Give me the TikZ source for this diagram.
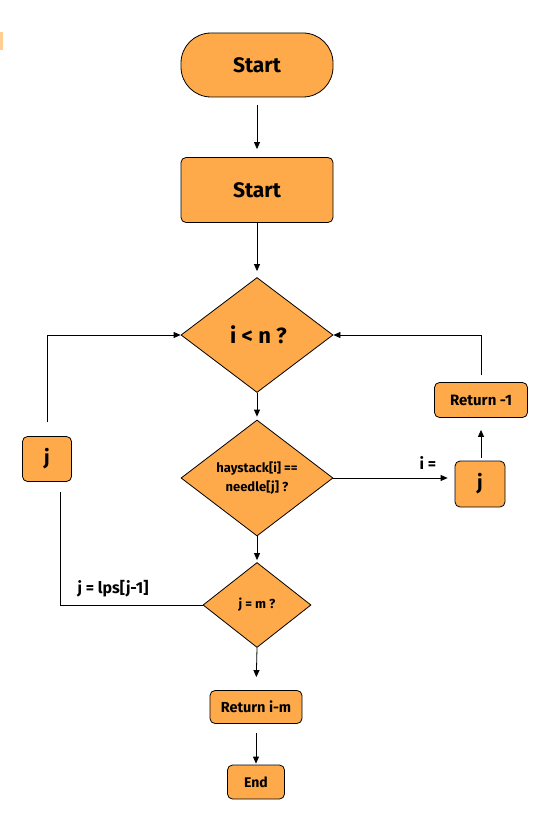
\documentclass[tikz,border=0pt]{standalone}
\usepackage{fontspec}
\setmainfont{Fira Sans}
\usetikzlibrary{shapes.geometric,arrows.meta}
\definecolor{boxfill}{HTML}{FFAA4A}
\definecolor{fragfill}{HTML}{FFCC94}
\tikzset{
  base/.style={draw=black,line width=0.8pt,fill=boxfill,inner sep=0pt,font=\bfseries},
  term/.style={base,rectangle,rounded corners=30pt},
  proc/.style={base,rectangle,rounded corners=5pt},
  dec/.style={base,diamond},
  conn/.style={line width=0.8pt,-{Triangle[length=7pt,width=6pt]}},
  plain/.style={line width=0.8pt},
  lbl/.style={font=\bfseries\fontsize{16}{18}\selectfont,inner sep=0pt}
}
\begin{document}
\begin{tikzpicture}[x=1pt,y=-1pt]
\useasboundingbox (0,0) rectangle (550,824);
\fill[fragfill] (0,32) rectangle (3,50);
\node[term,minimum width=152pt,minimum height=64pt,font=\bfseries\fontsize{21}{24}\selectfont] (start) at (257,65) {Start};
\node[proc,minimum width=152pt,minimum height=65pt,font=\bfseries\fontsize{21}{24}\selectfont] (init) at (257,190) {Start};
\node[dec,minimum width=152pt,minimum height=115pt,font=\bfseries\fontsize{22}{24}\selectfont] (d1) at (257,335) {\hspace{3pt}i < n ?};
\node[dec,minimum width=152pt,minimum height=116pt,align=center,font=\bfseries\fontsize{13}{19}\selectfont] (d2) at (257,478) {haystack[i] ==\\needle[j] ?};
\node[proc,minimum width=50pt,minimum height=46pt,font=\bfseries\fontsize{20}{22}\selectfont] (jr) at (480,484) {j};
\node[proc,minimum width=93pt,minimum height=35pt,font=\bfseries\fontsize{15}{17}\selectfont] (ret1) at (481,400) {Return -1};
\node[proc,minimum width=49pt,minimum height=45pt,font=\bfseries\fontsize{20}{22}\selectfont] (jl) at (47,459) {j};
\node[dec,minimum width=108pt,minimum height=85pt,font=\bfseries\fontsize{13}{15}\selectfont] (d3) at (257,605) {j = m ?};
\node[proc,minimum width=92pt,minimum height=33pt,font=\bfseries\fontsize{14.5}{16}\selectfont] (retim) at (256,707) {Return i-m};
\node[proc,minimum width=57pt,minimum height=34pt,font=\bfseries\fontsize{14}{16}\selectfont] (endn) at (256,782) {End};
\coordinate (jlb) at (60,492);
\draw[conn,shorten <=8pt,shorten >=8pt] (start.south) -- (init.north);
\draw[conn,shorten >=6pt] (init.south) -- (d1.north);
\draw[conn,shorten >=3pt] (d1.south) -- (d2.north);
\draw[conn,shorten >=2pt] (d2.south) -- (d3.north);
\draw[conn,shorten >=13pt] (d3.south) -- (retim.north);
\draw[conn,shorten <=9pt,shorten >=1pt] (retim.south) -- (endn.north);
\draw[conn,shorten >=7pt] (d2.east) -- (d2.east -| jr.west) node[lbl,pos=0.78,above=8pt] {i =};
\draw[conn,shorten <=3pt,shorten >=12pt] (jr.north -| ret1.south) -- (ret1.south);
\draw[conn,shorten <=7pt] (ret1.north) |- (d1.east);
\draw[conn,shorten <=14pt] (jl.north) |- (d1.west);
\draw[plain] (d3.west) -| (jlb);
\node[lbl] (lab) at (113,589) {j = lps[j-1]};
\end{tikzpicture}
\end{document}
